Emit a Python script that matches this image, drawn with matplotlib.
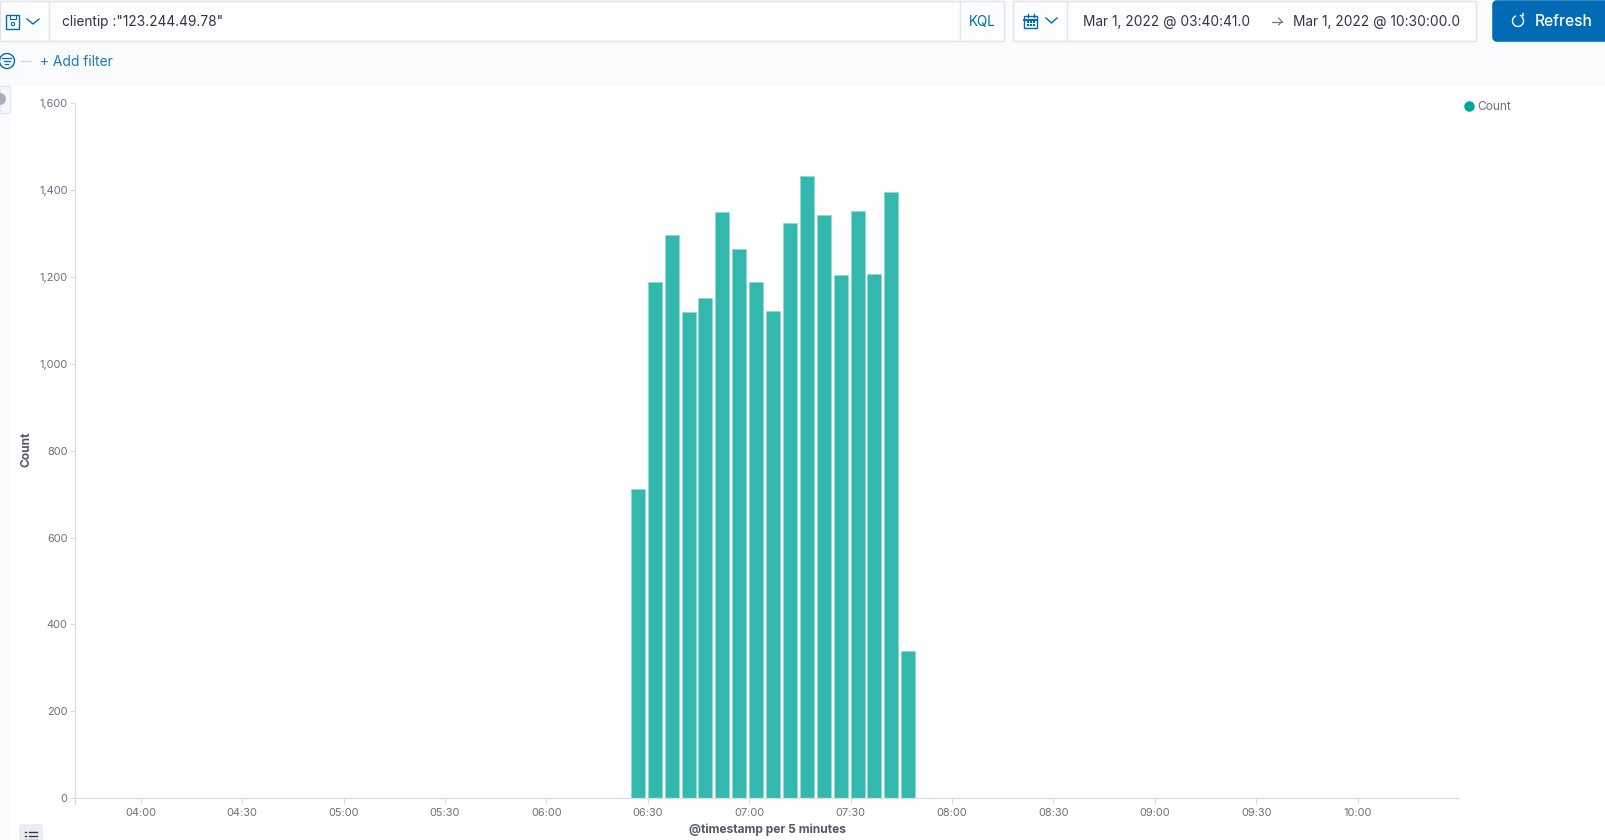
import matplotlib
matplotlib.use("Agg")
import matplotlib.pyplot as plt
import matplotlib.dates as mdates
from matplotlib.lines import Line2D
from matplotlib.patches import Circle, FancyBboxPatch, Rectangle, Arc
from datetime import datetime

plt.rcParams["font.family"] = ["Inter", "DejaVu Sans"]

W, H = 1606, 840

bar_times = ["06:25", "06:30", "06:35", "06:40", "06:45", "06:50", "06:55", "07:00", "07:05",
             "07:10", "07:15", "07:20", "07:25", "07:30", "07:35", "07:40", "07:45"]
counts = [712, 1187, 1296, 1119, 1152, 1350, 1264, 1187, 1121,
          1323, 1431, 1342, 1204, 1351, 1206, 1396, 339]
x_ticks = ["04:00", "04:30", "05:00", "05:30", "06:00", "06:30", "07:00",
           "07:30", "08:00", "08:30", "09:00", "09:30", "10:00"]
y_ticks = [0, 200, 400, 600, 800, 1000, 1200, 1400, 1600]
range_start = "03:40:41"
range_end = "10:30:00"

GREY = "#69707d"
LINK = "#006bb4"
AXIS = "#d9dce1"


def t(s):
    fmt = "%H:%M:%S" if s.count(":") == 2 else "%H:%M"
    return datetime.strptime("2022-03-01 " + s, "%Y-%m-%d " + fmt)


def px(size):
    return size * 72 / 100


fig = plt.figure(figsize=(W / 100, H / 100), dpi=100, facecolor="#fafbfd")

# page chrome, drawn in pixel coordinates
ui = fig.add_axes([0, 0, 1, 1], zorder=0)
ui.set_xlim(0, W)
ui.set_ylim(H, 0)
ui.axis("off")

ui.add_patch(Rectangle((11, 86), W - 11, H - 86, fc="white", ec="none"))
ui.add_patch(Rectangle((0, 86), 10, 27, fc="#f5f7fa", ec="#e3e8f0", lw=1))
ui.add_patch(Circle((0, 99), 6, fc="#a8aeb8", ec="none"))

# query bar
ui.add_patch(Rectangle((0, 1), 1004, 40, fc="#fcfdfe", ec="#dfe3ea", lw=1))
ui.plot([49, 49], [2, 40], color="#e3e6eb", lw=1)
ui.plot([960, 960], [2, 40], color="#e3e6eb", lw=1)
ui.text(62, 22, 'clientip :"123.244.49.78"', fontsize=px(13.7), color="#343741", va="center")
ui.text(982.5, 22, "KQL", fontsize=px(13.5), color=LINK, va="center", ha="center")

# save icon and chevron
ui.add_patch(Rectangle((6.5, 15), 13, 14, fc="none", ec=LINK, lw=1))
ui.add_patch(Circle((13, 24), 1.6, fc="none", ec=LINK, lw=0.8))
ui.plot([10, 10, 16, 16], [15, 19, 19, 15], color=LINK, lw=0.8)
ui.plot([27, 33, 39], [19, 24, 19], color=LINK, lw=1)

# date picker
ui.add_patch(Rectangle((1013.5, 1), 463, 40, fc="#fcfdfe", ec="#dfe3ea", lw=1))
ui.plot([1067.5, 1067.5], [2, 40], color="#e3e6eb", lw=1)
ui.add_patch(Rectangle((1024.5, 16), 13, 12, fc="none", ec=LINK, lw=1))
ui.plot([1024.5, 1037.5], [19.5, 19.5], color=LINK, lw=1.4)
ui.plot([1028, 1028], [14, 17], color=LINK, lw=1)
ui.plot([1034, 1034], [14, 17], color=LINK, lw=1)
for cx in (1028, 1031, 1034):
    for cy in (22, 25):
        ui.add_patch(Rectangle((cx - 0.7, cy - 0.7), 1.6, 1.6, fc=LINK, ec="none"))
ui.plot([1046, 1051.5, 1057], [18, 23, 18], color=LINK, lw=1)
ui.text(1083.5, 22, f"Mar 1, 2022 @ {range_start}.0", fontsize=px(13.7), color="#343741", va="center")
ui.plot([1272, 1282], [21.5, 21.5], color=GREY, lw=0.8)
ui.plot([1278.5, 1282, 1278.5], [18, 21.5, 25], color=GREY, lw=0.8)
ui.text(1293, 22, f"Mar 1, 2022 @ {range_end}.0", fontsize=px(13.7), color="#343741", va="center")

# refresh button
ui.add_patch(FancyBboxPatch((1495, 3), 120, 36, boxstyle="round,pad=0,rounding_size=2",
                            mutation_aspect=1, fc=LINK, ec=LINK, lw=4))
ui.add_patch(Arc((1518, 21), 11, 11, theta1=-50, theta2=250, ec="white", lw=1))
ui.plot([1520.5, 1523, 1523], [15.5, 16, 13.5], color="white", lw=1)
ui.text(1535, 21.5, "Refresh", fontsize=px(15.5), color="white", va="center", fontweight="medium")

# filter row
ui.add_patch(Circle((7, 61), 7.5, fc="none", ec=LINK, lw=1))
for half, y in ((4.5, 58), (3, 61), (1.5, 64)):
    ui.plot([7 - half, 7 + half], [y, y], color=LINK, lw=0.9)
ui.plot([21, 31], [61, 61], color="#d3dae6", lw=1)
ui.text(40.5, 62, "+ Add filter", fontsize=px(13.8), color="#1f79b8", va="center")

# list toggle under the chart
ui.add_patch(FancyBboxPatch((19, 824), 24, 20, boxstyle="round,pad=0,rounding_size=3",
                            fc="#e9edf3", ec="none"))
for y in (832, 836, 840):
    ui.plot([25.5, 26.5], [y, y], color="#343741", lw=1)
    ui.plot([29, 37], [y, y], color="#343741", lw=1)

# chart
left, right, top, bottom = 75.5, 1459, 103, 798.2
ax = fig.add_axes([left / W, 1 - bottom / H, (right - left) / W, (bottom - top) / H], zorder=1)
ax.patch.set_alpha(0)

starts = [mdates.date2num(t(s)) for s in bar_times]
step = mdates.date2num(t("00:05")) - mdates.date2num(t("00:00"))
ax.bar(starts, counts, width=step * 0.825, align="edge", color="#32b8ad",
       edgecolor="#8fd8d2", linewidth=0.6)

ax.set_xlim(mdates.date2num(t(range_start)), mdates.date2num(t(range_end)))
ax.set_ylim(0, 1600)

ax.set_xticks([mdates.date2num(t(s)) for s in x_ticks], x_ticks)
ax.set_yticks(y_ticks, [f"{v:,}" for v in y_ticks])
ax.tick_params(axis="x", length=px(6), width=0.8, color=AXIS, labelcolor=GREY,
               labelsize=px(11), pad=px(4))
ax.tick_params(axis="y", length=px(5), width=0.8, color=AXIS, labelcolor=GREY,
               labelsize=px(11), pad=px(3))
ax.spines[["top", "right"]].set_visible(False)
ax.spines[["left", "bottom"]].set_color(AXIS)
ax.spines[["left", "bottom"]].set_linewidth(0.9)
# left spine runs a little below the x axis, like the other ticks
ax.plot([0, 0], [0, -6 / (bottom - top)], transform=ax.transAxes, color=AXIS, lw=0.9, clip_on=False)

ax.set_xlabel("@timestamp per 5 minutes", fontsize=px(12), fontweight="bold", color="#535966")
ax.xaxis.set_label_coords((767.5 - left) / (right - left), -(830 - bottom) / (bottom - top))
ax.xaxis.label.set_va("center")
ax.set_ylabel("Count", fontsize=px(12), fontweight="bold", color="#535966")
ax.yaxis.set_label_coords((27 - left) / (right - left), (bottom - 449) / (bottom - top))
ax.yaxis.label.set_va("center")

handle = Line2D([], [], linestyle="none", marker="o", markersize=px(10.5),
                markerfacecolor="#00a69b", markeredgecolor="none")
fig.legend([handle], ["Count"], loc="center left", bbox_to_anchor=(1463.2 / W, 1 - 107 / H),
           frameon=False, fontsize=px(12), labelcolor=GREY, handletextpad=0.15,
           handlelength=1.0, borderpad=0, borderaxespad=0)

fig.savefig("out.png", dpi=100, facecolor=fig.get_facecolor())
